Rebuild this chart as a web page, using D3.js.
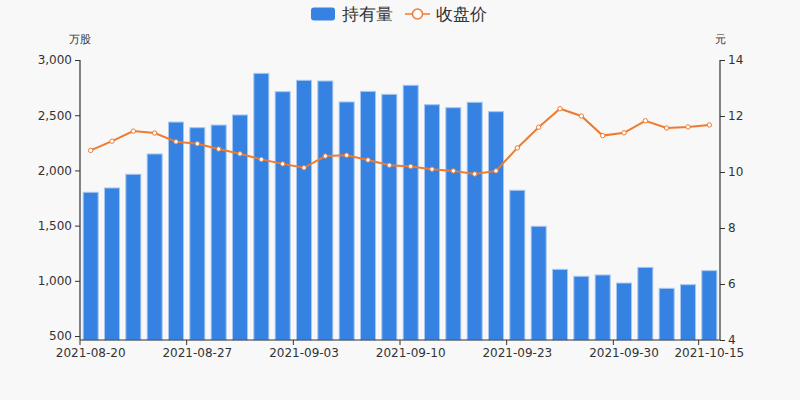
<!DOCTYPE html>
<html><head><meta charset="utf-8">
<script src="https://cdn.jsdelivr.net/npm/d3@7"></script>
<style>body{margin:0;background:#f8f8f8;}svg{display:block;font-family:"DejaVu Sans",sans-serif;}</style>
</head><body><svg id="c" width="800" height="400"></svg>
<script>
const dates = ["2021-08-20","2021-08-23","2021-08-24","2021-08-25","2021-08-26","2021-08-27",
"2021-08-30","2021-08-31","2021-09-01","2021-09-02","2021-09-03",
"2021-09-06","2021-09-07","2021-09-08","2021-09-09","2021-09-10",
"2021-09-14","2021-09-15","2021-09-16","2021-09-17","2021-09-23",
"2021-09-24","2021-09-27","2021-09-28","2021-09-29","2021-09-30",
"2021-10-12","2021-10-13","2021-10-14","2021-10-15"];
const holdings = [1802,1841,1965,2149,2438,2387,2411,2502,2879,2713,2816,2810,2620,2716,2689,2771,2595,2568,2617,2532,1820,1494,1104,1041,1053,980,1122,932,965,1092];
const closePrice = [10.77,11.10,11.46,11.39,11.08,11.01,10.82,10.65,10.45,10.29,10.15,10.57,10.60,10.43,10.24,10.20,10.10,10.04,9.93,10.04,10.86,11.60,12.26,12.00,11.30,11.40,11.83,11.57,11.61,11.68];
const leftTicks = [500,1000,1500,2000,2500,3000];
const rightTicks = [4,6,8,10,12,14];
const shownLabels = [0,5,10,15,20,25,29];

const svg = d3.select("#c");
const L=80,R=720,T=60,B=340;
const x = d3.scaleBand().domain(d3.range(dates.length)).range([L,R]).paddingInner(0.3).paddingOuter(0.15);
const xb = d3.scaleBand().domain(d3.range(dates.length)).range([L,R]);
const yL = d3.scaleLinear().domain([464,3000]).range([B,T]);
const yR = d3.scaleLinear().domain([4,14]).range([B,T]);
const txt="#333";

// bars
svg.append("g").selectAll("rect").data(holdings).join("rect")
  .attr("x",(d,i)=>xb(i)+xb.bandwidth()/2-7.5).attr("width",15)
  .attr("y",d=>yL(d)).attr("height",d=>B-yL(d))
  .attr("fill","#3582e2").attr("stroke","#a9c8f0").attr("stroke-width",1);

// line
const line = d3.line().x((d,i)=>xb(i)+xb.bandwidth()/2).y(d=>yR(d));
svg.append("path").datum(closePrice).attr("d",line).attr("fill","none").attr("stroke","#ee7b30").attr("stroke-width",2);
svg.append("g").selectAll("circle").data(closePrice).join("circle")
  .attr("cx",(d,i)=>xb(i)+xb.bandwidth()/2).attr("cy",d=>yR(d)).attr("r",2.2)
  .attr("fill","#fff").attr("stroke","#ee7b30").attr("stroke-width",1);

// left axis
const gl = svg.append("g").attr("transform",`translate(${L},0)`)
  .call(d3.axisLeft(yL).tickValues(leftTicks).tickSize(5).tickPadding(3).tickFormat(d3.format(",")));
// right axis
const gr = svg.append("g").attr("transform",`translate(${R},0)`)
  .call(d3.axisRight(yR).tickValues(rightTicks).tickSize(5).tickPadding(3));
// bottom axis
const gb = svg.append("g").attr("transform",`translate(0,${B})`)
  .call(d3.axisBottom(xb).tickValues(shownLabels).tickSize(0).tickFormat(i=>dates[i]).tickPadding(8));
[gl,gr,gb].forEach(g=>{
  g.select(".domain").attr("stroke",txt).attr("stroke-width",1.2);
  g.selectAll(".tick line").attr("stroke",txt);
  g.selectAll("text").attr("fill",txt).style("font-size","12px").style("font-family","DejaVu Sans");
});
gr.select(".domain").attr("d",`M0,${T}V${B}`);
gl.select(".domain").attr("d",`M0,${T}V${B}`);
gb.select(".domain").attr("d",`M${L},0H${R}`);
// bottom ticks at band boundaries
svg.append("g").selectAll("line").data(shownLabels).join("line")
  .attr("x1",i=>xb(i)).attr("x2",i=>xb(i)).attr("y1",B).attr("y2",B+5).attr("stroke",txt);

// unit labels
svg.append("text").attr("x",80).attr("y",43).attr("text-anchor","middle").attr("fill",txt).style("font-size","11px").text("万股");
svg.append("text").attr("x",720).attr("y",43).attr("text-anchor","middle").attr("fill",txt).style("font-size","11px").text("元");

// legend
const lg = svg.append("g");
lg.append("rect").attr("x",311).attr("y",7.5).attr("width",24).attr("height",13).attr("rx",3).attr("fill","#3582e2");
lg.append("text").attr("x",342).attr("y",20).attr("fill",txt).style("font-size","17px").text("持有量");
lg.append("line").attr("x1",405).attr("x2",430).attr("y1",14).attr("y2",14).attr("stroke","#ee7b30").attr("stroke-width",1.5);
lg.append("circle").attr("cx",417.5).attr("cy",14).attr("r",5).attr("fill","#fff").attr("stroke","#ee7b30").attr("stroke-width",1.5);
lg.append("text").attr("x",436).attr("y",20).attr("fill",txt).style("font-size","17px").text("收盘价");
</script></body></html>
